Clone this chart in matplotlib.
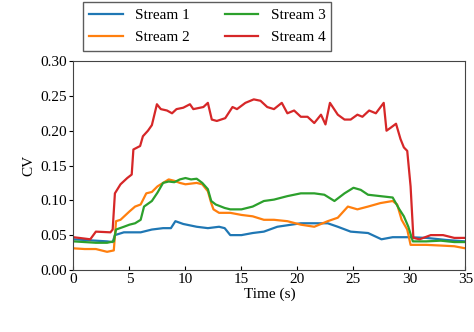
import matplotlib.pyplot as plt

plt.rcParams['font.family'] = ['Liberation Serif', 'DejaVu Serif']
plt.rcParams['font.size'] = 11

# Stream 1 (blue)
t1 = [0, 1, 2, 3, 3.5, 3.7, 4.5, 6, 7, 8, 8.7, 9.1, 9.8, 11, 12, 13, 13.5, 14, 15, 16, 17, 18.2,
      20.3, 21.8, 22.7, 23.6, 24.75, 26.3, 27.5, 28.5, 30, 31.5, 33.3, 35]
s1 = [0.044, 0.043, 0.042, 0.041, 0.040, 0.050, 0.054, 0.054, 0.058, 0.060, 0.060, 0.070, 0.066,
      0.062, 0.060, 0.062, 0.060, 0.050, 0.050, 0.053, 0.055, 0.062, 0.067, 0.067, 0.067, 0.062,
      0.055, 0.053, 0.044, 0.047, 0.047, 0.046, 0.043, 0.041]

# Stream 2 (orange)
t2 = [0, 1, 2, 3, 3.6, 3.8, 4.2, 5, 5.5, 6, 6.5, 7, 7.5, 8, 8.5, 9, 9.5, 10, 11, 11.5, 12, 12.3,
      12.5, 13, 14, 15, 16, 17, 17.9, 19.1, 20.3, 21.5, 22.7, 23.6, 24.5, 25.35, 26.3, 27.4,
      28.5, 28.9, 29.3, 29.8, 30.1, 31.5, 32.8, 34, 35]
s2 = [0.031, 0.030, 0.030, 0.026, 0.028, 0.070, 0.072, 0.084, 0.091, 0.094, 0.110, 0.112, 0.120,
      0.125, 0.130, 0.128, 0.125, 0.123, 0.125, 0.123, 0.113, 0.096, 0.087, 0.082, 0.082, 0.079,
      0.077, 0.072, 0.072, 0.070, 0.065, 0.062, 0.070, 0.075, 0.091, 0.087, 0.091, 0.096, 0.099,
      0.094, 0.072, 0.058, 0.036, 0.036, 0.035, 0.034, 0.031]

# Stream 3 (green)
t3 = [0, 1, 2, 3, 3.6, 3.8, 4.5, 5, 5.5, 6, 6.3, 7, 7.5, 8, 8.5, 9, 9.5, 10, 10.5, 11, 11.5, 12,
      12.3, 12.7, 13.5, 14, 15, 16, 17, 17.9, 19.1, 20.3, 21.5, 22.4, 23.3, 24.2, 25.0, 25.65,
      26.3, 27.4, 28.5, 29.1, 29.5, 29.9, 30.3, 31.5, 32.8, 34, 35]
s3 = [0.041, 0.040, 0.039, 0.039, 0.041, 0.058, 0.062, 0.065, 0.067, 0.072, 0.091, 0.099, 0.111,
      0.125, 0.127, 0.126, 0.130, 0.132, 0.130, 0.131, 0.125, 0.116, 0.099, 0.094, 0.089, 0.087,
      0.087, 0.091, 0.099, 0.101, 0.106, 0.110, 0.110, 0.108, 0.099, 0.110, 0.118, 0.115, 0.108,
      0.106, 0.104, 0.087, 0.077, 0.062, 0.041, 0.041, 0.042, 0.040, 0.040]

# Stream 4 (red)
t4 = [0, 1.5, 2.0, 3.3, 3.5, 3.7, 4.2, 4.8, 5.2, 5.35, 5.95, 6.2, 6.65, 7.0, 7.45, 7.8, 8.35, 8.8,
      9.2, 9.8, 10.4, 10.7, 11.6, 12.0, 12.35, 12.8, 13.55, 14.2, 14.6, 15.35, 16.1, 16.7, 17.3,
      17.9, 18.6, 19.1, 19.7, 20.3, 20.9, 21.5, 22.1, 22.5, 22.9, 23.6, 24.2, 24.75, 25.35, 25.8,
      26.4, 27.0, 27.7, 27.95, 28.3, 28.8, 29.2, 29.5, 29.8, 30.1, 30.35, 30.9, 31.9, 33.0, 34.0, 35]
s4 = [0.047, 0.044, 0.055, 0.054, 0.058, 0.110, 0.123, 0.132, 0.137, 0.173, 0.178, 0.192, 0.200,
      0.208, 0.238, 0.231, 0.229, 0.225, 0.231, 0.233, 0.238, 0.231, 0.234, 0.240, 0.216, 0.214,
      0.218, 0.234, 0.231, 0.240, 0.245, 0.243, 0.234, 0.231, 0.240, 0.225, 0.229, 0.220, 0.220,
      0.211, 0.223, 0.209, 0.240, 0.223, 0.216, 0.216, 0.223, 0.220, 0.229, 0.225, 0.240, 0.200,
      0.204, 0.210, 0.188, 0.176, 0.171, 0.120, 0.046, 0.044, 0.050, 0.050, 0.046, 0.046]

fig = plt.figure(figsize=(4.74, 3.32), dpi=100)
ax = fig.add_axes([0.155, 0.187, 0.827, 0.629])

ax.plot(t1, s1, color='#1f77b4', lw=1.6, label='Stream 1')
ax.plot(t2, s2, color='#ff7f0e', lw=1.6, label='Stream 2')
ax.plot(t3, s3, color='#2ca02c', lw=1.6, label='Stream 3')
ax.plot(t4, s4, color='#d62728', lw=1.6, label='Stream 4')

ax.set_xlim(0, 35)
ax.set_ylim(0, 0.30)
ax.set_xticks(range(0, 36, 5))
ax.set_yticks([0, 0.05, 0.10, 0.15, 0.20, 0.25, 0.30])
ax.set_yticklabels(['0.00', '0.05', '0.10', '0.15', '0.20', '0.25', '0.30'])
ax.tick_params(axis='x', direction='in', length=3, pad=2)
ax.tick_params(axis='y', direction='out', length=3, pad=2)
ax.set_xlabel('Time (s)', labelpad=1)
ax.set_ylabel('CV', labelpad=3)
for sp in ax.spines.values():
    sp.set_color('#444444')

# legend sits above the axes, two columns
fig.legend(loc='upper left', bbox_to_anchor=(0.175, 0.9925), ncol=2, frameon=True,
           fancybox=False, edgecolor='#333333', handlelength=2.2, columnspacing=2.3,
           borderpad=0.4, labelspacing=0.55, handletextpad=0.8, borderaxespad=0)

fig.savefig('out.png', dpi=100)
